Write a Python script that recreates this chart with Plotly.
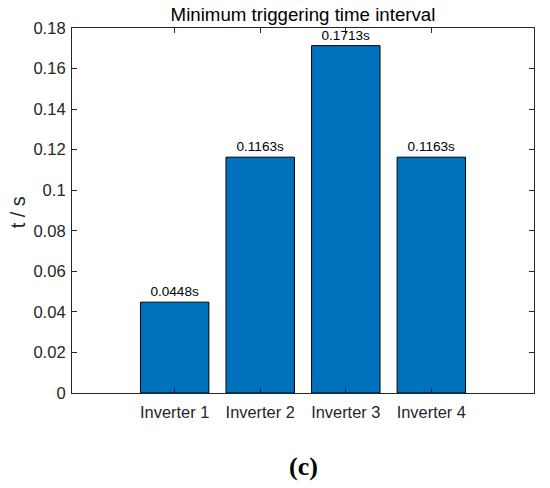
import plotly.graph_objects as go

# datos del gráfico
inverters = ["Inverter 1", "Inverter 2", "Inverter 3", "Inverter 4"]
min_interval = [0.0448, 0.1163, 0.1713, 0.1163]
y_ticks = [0, 0.02, 0.04, 0.06, 0.08, 0.1, 0.12, 0.14, 0.16, 0.18]
y_tick_labels = ["0", "0.02", "0.04", "0.06", "0.08", "0.1", "0.12", "0.14", "0.16", "0.18"]

axis_color = "#262626"

fig = go.Figure()
fig.add_trace(go.Bar(
    x=inverters,
    y=min_interval,
    width=0.8,
    marker=dict(color="#0072BD", line=dict(color="black", width=1)),
    text=[f"{v}s" for v in min_interval],
    textposition="outside",
    textfont=dict(family="Liberation Sans", size=13.6, color="black"),
    cliponaxis=False,
    hoverinfo="x+y"))

fig.update_layout(
    width=550, height=488,
    margin=dict(l=72, r=16, t=28, b=95),
    paper_bgcolor="white", plot_bgcolor="white",
    showlegend=False,
    font=dict(family="Liberation Sans", color=axis_color),
    title=dict(text="Minimum triggering time interval", x=0.5, xref="paper",
               y=1, yref="paper", yanchor="bottom", pad=dict(b=7),
               font=dict(size=18.7, color="black")),
    xaxis=dict(
        range=[-1.2, 4.2],
        showgrid=False, zeroline=False,
        showline=True, linecolor=axis_color, linewidth=1, mirror="ticks",
        ticks="inside", ticklen=5, tickcolor=axis_color,
        ticklabelstandoff=4,
        tickfont=dict(size=16.4, color=axis_color)),
    yaxis=dict(
        range=[0, 0.18],
        tickvals=y_ticks, ticktext=y_tick_labels,
        showgrid=False, zeroline=False,
        showline=True, linecolor=axis_color, linewidth=1, mirror="ticks",
        ticks="inside", ticklen=5, tickcolor=axis_color,
        ticklabelstandoff=2,
        tickfont=dict(size=16.6, color=axis_color)),
    annotations=[
        # etiqueta del eje y
        dict(text="t / s", x=-0.116, xref="paper", y=0.496, yref="paper",
             xanchor="center", yanchor="middle", textangle=-90, showarrow=False,
             font=dict(size=20, color=axis_color)),
        # letra de la subfigura
        dict(text="<b>(c)</b>", x=0.5, xref="paper", y=-0.2027, yref="paper",
             xanchor="center", yanchor="middle", showarrow=False,
             font=dict(family="Liberation Serif", size=26, color="black"))]
)

# quitar el margen de 8px del body para que la figura empiece en (0, 0)
fig.write_html("out.html", config={"displayModeBar": False},
               post_script="document.body.style.margin='0';")
